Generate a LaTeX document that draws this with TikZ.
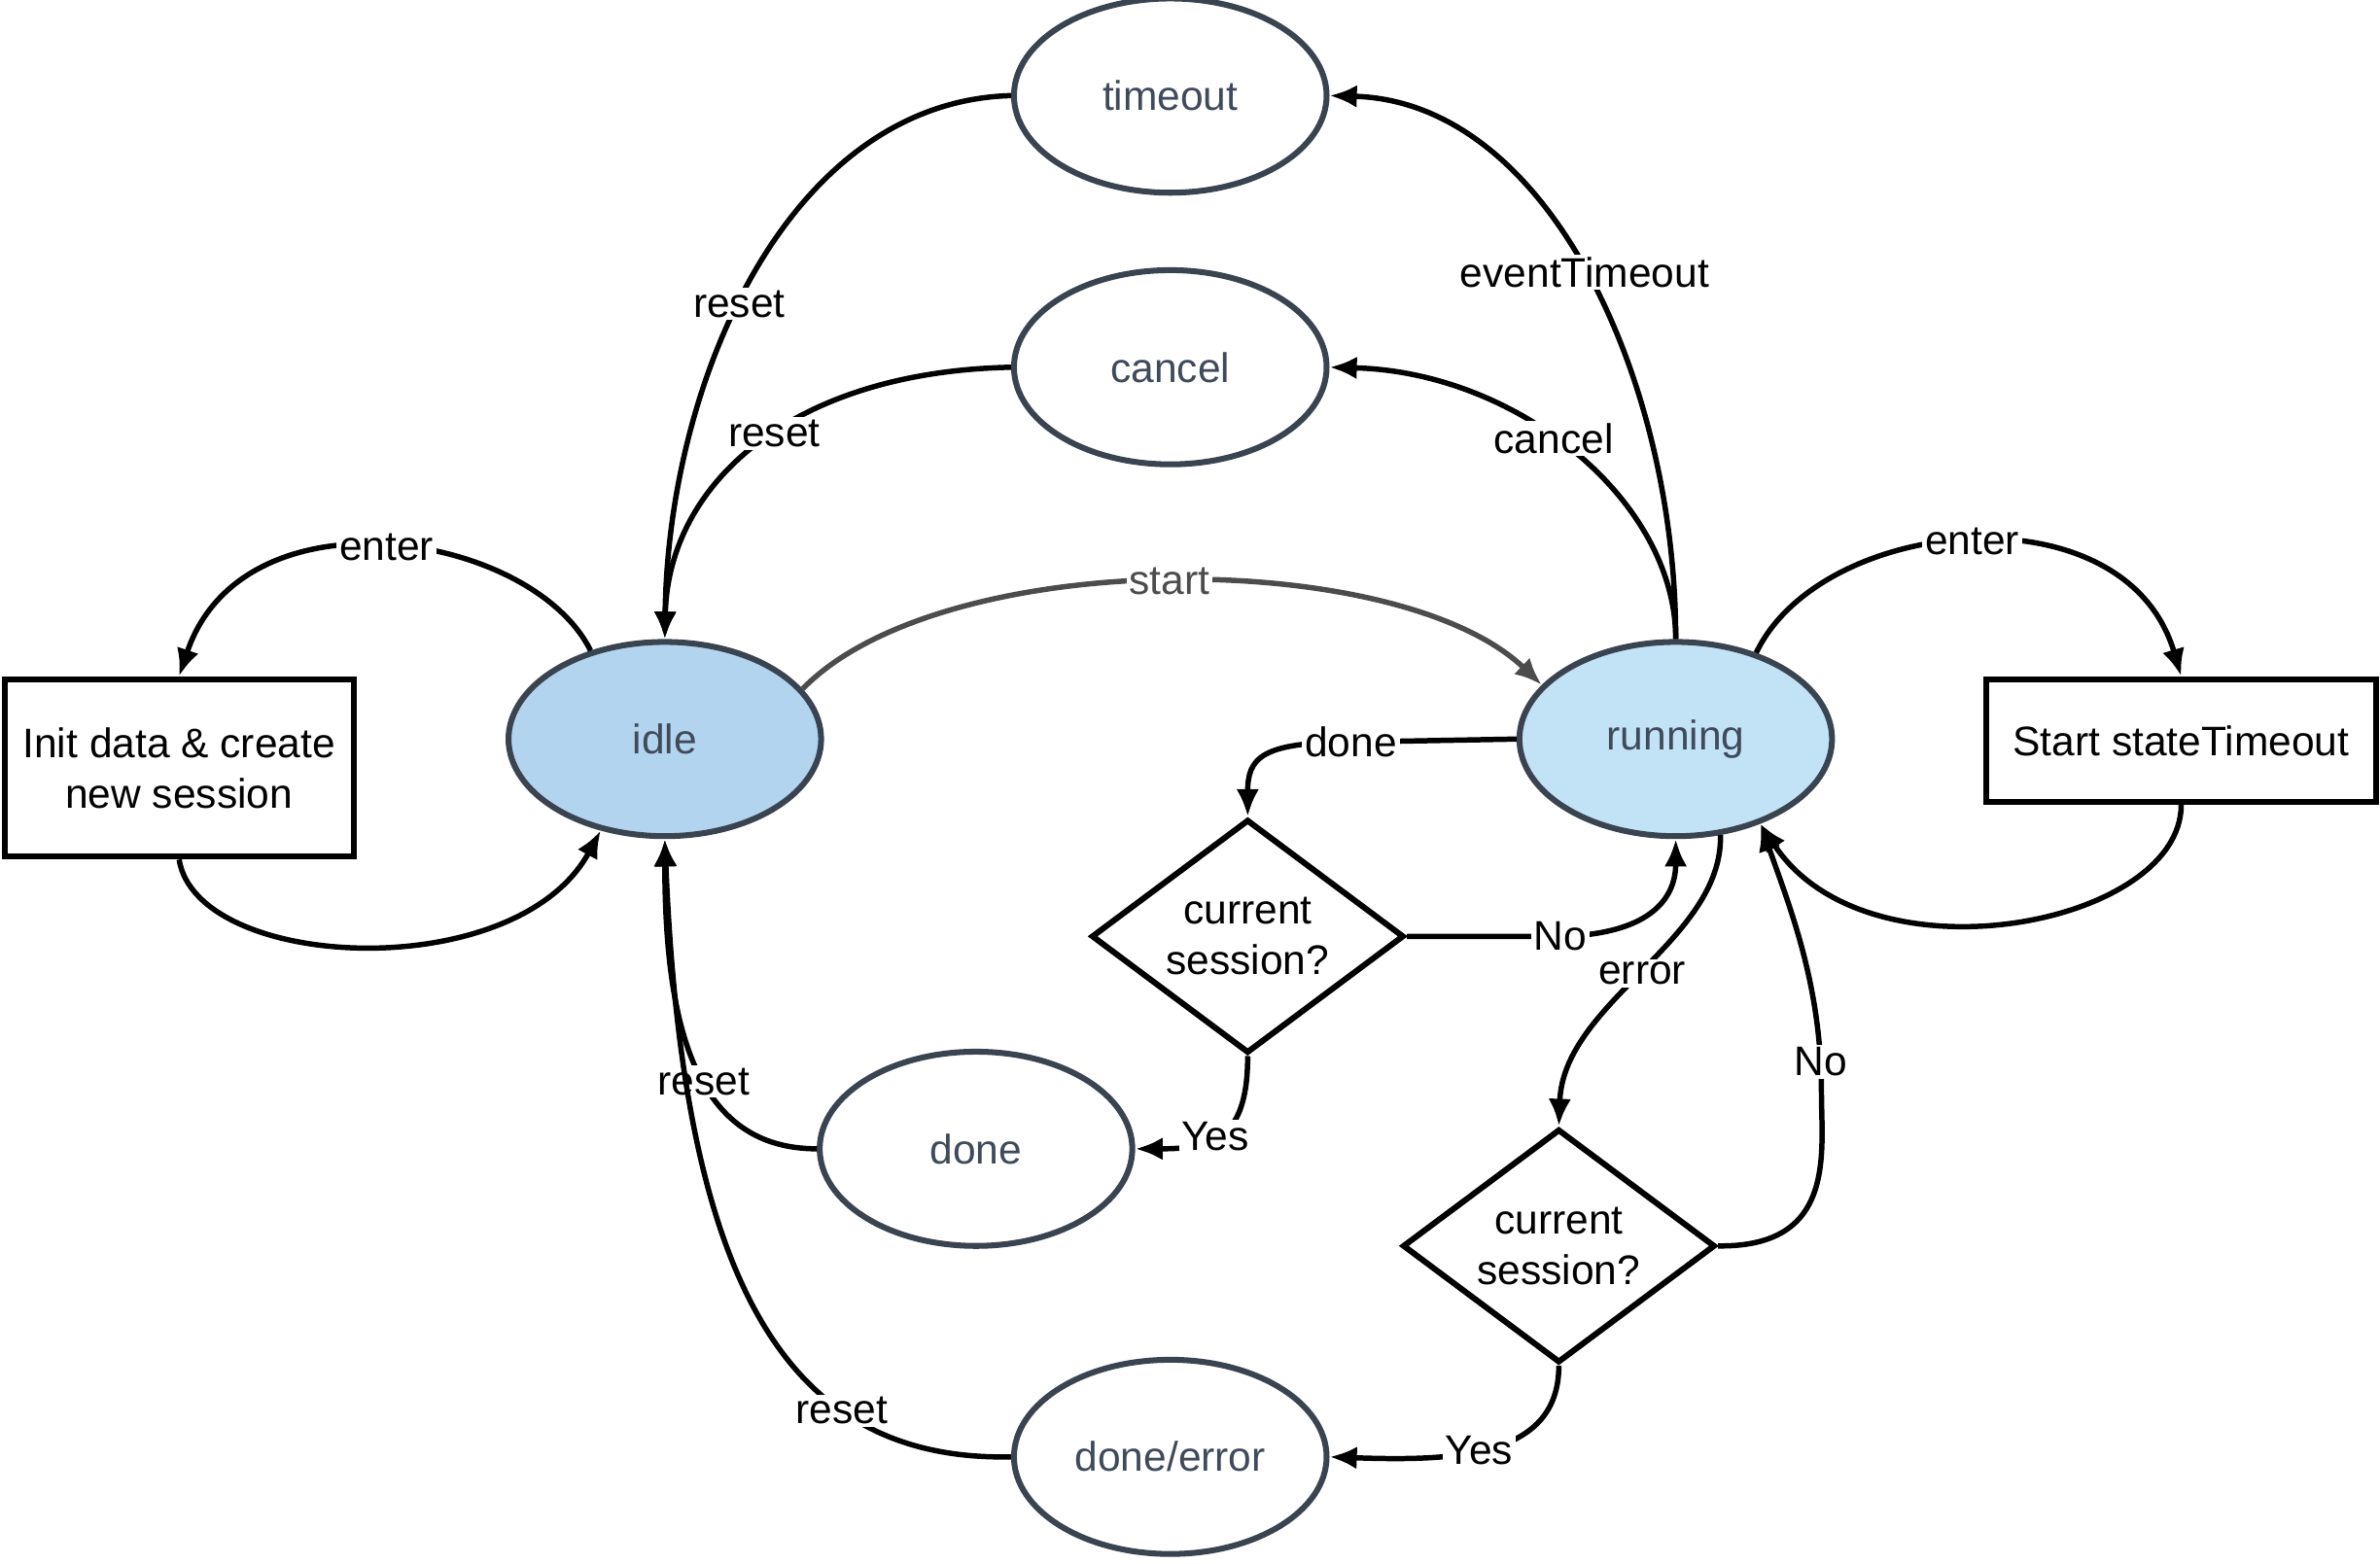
\documentclass[tikz,border=0pt]{standalone}
\usepackage{fontspec}
\setmainfont{Liberation Sans}
\usetikzlibrary{shapes.geometric,arrows.meta}
\definecolor{edgec}{HTML}{3A4450}
\definecolor{txtc}{HTML}{3F4A5A}
\definecolor{idlec}{HTML}{B3D4EE}
\definecolor{runc}{HTML}{C2E2F6}
\begin{document}
\begin{tikzpicture}[x=0.02cm,y=-0.02cm,font=\fontsize{15.5}{19}\selectfont,
 st/.style={ellipse,draw=edgec,line width=2.2pt,minimum width=4.12cm,minimum height=2.56cm,inner sep=0pt,text=txtc},
 bx/.style={draw=black,line width=2.2pt,align=center,inner sep=0pt},
 dm/.style={diamond,draw=black,line width=2.2pt,minimum width=4.12cm,minimum height=3.08cm,aspect=1.34,inner sep=0pt,align=center},
 ar/.style={line width=2pt,-{Latex[length=0.36cm,width=0.3cm]}},
 lbl/.style={fill=white,inner sep=1pt}]
\useasboundingbox (0,0) rectangle (1568,1030);
\node[st] (to) at (771,63) {timeout};
\node[st] (ca) at (771,242) {cancel};
\node[st,fill=idlec] (idle) at (438,487) {idle};
\node[st,fill=runc] (run) at (1104,487) {running};
\node[st] (dn) at (643,757) {done};
\node[st] (de) at (771,960) {done/error};
\node[bx,minimum width=4.6cm,minimum height=2.34cm] (init) at (118,506) {Init data \& create\\new session};
\node[bx,minimum width=5.14cm,minimum height=1.62cm] (sb) at (1437,488) {Start stateTimeout};
\node[dm] (d1) at (822,617) {current\\session?};
\node[dm] (d2) at (1027,821) {current\\session?};

\draw[ar] (idle.130) .. controls (350,350) and (160,320) .. node[lbl,pos=0.5]{enter} (init.north);
\draw[ar] (init.south) .. controls (130,640) and (340,650) .. (idle.235);
\draw[ar] (to.west) .. controls (520,67) and (440,250) .. node[lbl,pos=0.55]{reset} (idle.north);
\draw[ar] (ca.west) .. controls (520,245) and (440,320) .. node[lbl,pos=0.45]{reset} (idle.north);
\draw[ar,draw=black!70,text=black!70] (idle.20) .. controls (620,360) and (920,360) .. node[lbl,pos=0.5]{start} (run.158);
\draw[ar] (run.north) .. controls (1104,250) and (1020,67) .. node[lbl,pos=0.5]{eventTimeout} (to.east);
\draw[ar] (run.north) .. controls (1104,330) and (1000,245) .. node[lbl,pos=0.55]{cancel} (ca.east);
\draw[ar] (run.47) .. controls (1200,340) and (1400,320) .. node[lbl,pos=0.5]{enter} (sb.north);
\draw[ar] (sb.south) .. controls (1437,610) and (1230,650) .. (run.-45);
\draw[ar] (run.west) -- node[lbl,pos=1]{done} (890,489) .. controls (830,489) and (822,500) .. (d1.north);
\draw[ar] (d1.east) -- node[lbl,pos=0.98]{No} (1030,617) .. controls (1090,615) and (1104,590) .. (run.south);
\draw[ar] (run.-65) .. controls (1135,620) and (1030,660) .. node[lbl,pos=0.5]{error} (d2.north);
\draw[ar] (d2.east) .. controls (1210,822) and (1200,760) .. (1200,720) .. controls (1200,650) and (1180,600) .. node[lbl,pos=0.1]{No} (run.-45);
\draw[ar] (d1.south) .. controls (822,750) and (800,757) .. node[lbl,pos=0.55]{Yes} (dn.east);
\draw[ar] (dn.west) .. controls (460,757) and (438,680) .. node[lbl,pos=0.45]{reset} (idle.south);
\draw[ar] (d2.south) .. controls (1027,960) and (960,963) .. node[lbl,pos=0.55]{Yes} (de.east);
\draw[ar] (de.west) .. controls (520,963) and (450,850) .. node[lbl,pos=0.3]{reset} (idle.south);
\end{tikzpicture}
\end{document}
